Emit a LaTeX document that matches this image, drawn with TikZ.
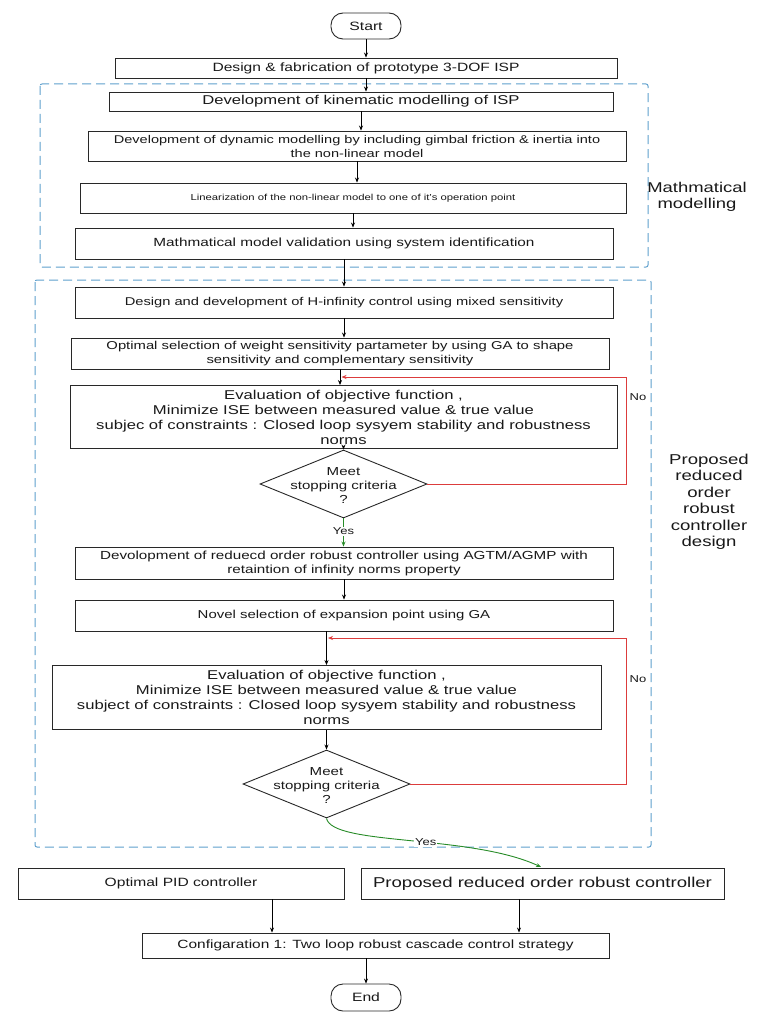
\documentclass[tikz,border=0pt]{standalone}
\usepackage{fontspec}
\setmainfont{Liberation Sans}[FakeStretch=1.3]
\usetikzlibrary{arrows.meta,shapes.geometric,calc}
\definecolor{boxline}{RGB}{40,40,40}
\definecolor{txt}{RGB}{25,25,25}
\definecolor{dashblue}{RGB}{95,160,205}
\definecolor{loopred}{RGB}{220,60,60}
\definecolor{yesgreen}{RGB}{40,140,40}
\newcommand{\fs}[2]{\fontsize{#1}{#2}\selectfont}
\tikzset{
  box/.style={draw=boxline, line width=0.9pt, rectangle, inner sep=0pt, align=center, text=txt},
  term/.style={box, rounded corners=12pt},
  dia/.style={draw=boxline, line width=0.9pt, diamond, inner sep=0pt, text=txt},
  arr/.style={draw=black, line width=0.7pt, -{Stealth[length=5pt,width=4pt]}},
  redarr/.style={draw=loopred, line width=0.7pt, -{Stealth[length=5pt,width=4pt]}},
  greenarr/.style={draw=yesgreen, line width=0.9pt, -{Stealth[length=5pt,width=4pt]}},
  group/.style={draw=dashblue, line width=1pt, dash pattern=on 9pt off 5pt, rounded corners=2pt},
  lbl/.style={align=center, text=txt, inner sep=0pt},
}
\begin{document}
\begin{tikzpicture}[x=1pt,y=-1pt]
\useasboundingbox[fill=white] (0,0) rectangle (768,1024);

% groups
\draw[group] (40,84) rectangle (648,267);
\draw[group] (35,280) rectangle (651,847);

% nodes
\node[term, minimum width=70, minimum height=26, font=\fs{12.1}{14}] (start) at (366,26) {Start};
\node[box, minimum width=502, minimum height=20, font=\fs{12}{14}] (design) at (366,68) {Design \& fabrication of prototype 3-DOF ISP};
\node[box, minimum width=504, minimum height=19, font=\fs{12.8}{15}] (kin) at (361,101.5) {Development of kinematic modelling of ISP};
\node[box, minimum width=538, minimum height=30, font=\fs{11.2}{14}] (dyn) at (357,146) {Development of dynamic modelling by including gimbal friction \& inertia into\\the non-linear model};
\node[box, minimum width=546, minimum height=30, font=\fs{8.7}{11}] (lin) at (353,198) {Linearization of the non-linear model to one of it's operation point};
\node[box, minimum width=538, minimum height=31, font=\fs{11.8}{14}] (val) at (344,243.5) {Mathmatical model validation using system identification};

\node[box, minimum width=538, minimum height=31, font=\fs{11.3}{14}] (hinf) at (344,302.5) {Design and development of H-infinity control using mixed sensitivity};
\node[box, minimum width=538, minimum height=31, font=\fs{11.4}{14}] (opt) at (340,353.5) {Optimal selection of weight sensitivity partameter by using GA to shape\\sensitivity and complementary sensitivity};
\node[box, minimum width=547, minimum height=63, font=\fs{12.8}{15}] (eval1) at (343.5,417) {Evaluation of objective function ,\\Minimize ISE between measured value \& true value\\subjec of constraints : Closed loop sysyem stability and robustness\\norms};
\node[dia, minimum width=167, minimum height=68] (dia1) at (343.5,484) {\smash{\makebox[0pt]{\raisebox{-6pt}{\fs{11.6}{14}\begin{tabular}{@{}c@{}}Meet\\stopping criteria\\?\end{tabular}}}}};
\node[box, minimum width=538, minimum height=32, font=\fs{11.7}{14}] (dev) at (344,563) {Devolopment of reduecd order robust controller using AGTM/AGMP with\\retaintion of infinity norms property};
\node[box, minimum width=538, minimum height=31, font=\fs{11.5}{14}] (novel) at (344,615.5) {Novel selection of expansion point using GA};
\node[box, minimum width=549, minimum height=64, font=\fs{12.8}{15}] (eval2) at (326.5,697.5) {Evaluation of objective function ,\\Minimize ISE between measured value \& true value\\subject of constraints : Closed loop sysyem stability and robustness\\norms};
\node[dia, minimum width=167, minimum height=68] (dia2) at (326.5,784) {\smash{\makebox[0pt]{\raisebox{-6pt}{\fs{11.6}{14}\begin{tabular}{@{}c@{}}Meet\\stopping criteria\\?\end{tabular}}}}};

\node[box, minimum width=326, minimum height=31, font=\fs{12}{14}] (pid) at (181,883.5) {Optimal PID controller};
\node[box, minimum width=363, minimum height=31, font=\fs{14.3}{16}] (prop) at (542.5,883.5) {Proposed reduced order robust controller};
\node[box, minimum width=467, minimum height=25, font=\fs{11.9}{14}] (conf) at (375.5,945.5) {Configaration 1: Two loop robust cascade control strategy};
\node[term, minimum width=70, minimum height=27, font=\fs{12.1}{14}] (end) at (366,997.5) {End};

% side labels
\node[lbl, font=\fs{14.2}{16}] (mm) at (697,197) {Mathmatical\\modelling};
\node[lbl, font=\fs{14.3}{16.5}] (prl) at (709,502) {Proposed\\reduced\\order\\robust\\controller\\design};

% connectors
\draw[arr] (start) -- (design);
\draw[arr] (design.south) -- (design.south |- kin.north);
\draw[arr] (kin.south) -- (kin.south |- dyn.north);
\draw[arr] (dyn.south) -- (dyn.south |- lin.north);
\draw[arr] (lin.south) -- (lin.south |- val.north);
\draw[arr] (val.south) -- (val.south |- hinf.north);
\draw[arr] (hinf.south) -- (hinf.south |- opt.north);
\draw[arr] (opt.south) -- (opt.south |- eval1.north);
\draw[arr] (eval1.south) -- (dia1.north);
\coordinate (r1) at (626,377);
\coordinate (t1) at (341.5,377);
\draw[redarr] (dia1.east) -| (r1) -- (t1);
\node[lbl, font=\fs{10}{12}] (no1) at (638,397) {No};
\draw[greenarr] (dia1.south) -- (dia1.south |- dev.north) node[pos=0.45, fill=white, inner sep=1pt, text=txt, font=\fs{10}{12}] (yes1) {Yes};

\draw[arr] (dev.south) -- (dev.south |- novel.north);
\draw[arr] (novel.south -| eval2.north) -- (eval2.north);
\draw[arr] (eval2.south) -- (dia2.north);
\coordinate (r2) at (626,638);
\coordinate (t2) at (328,638);
\draw[redarr] (dia2.east) -| (r2) -- (t2);
\node[lbl, font=\fs{10}{12}] (no2) at (638,679) {No};
\draw[greenarr] (dia2.south) .. controls (333,846) and (470,834) .. (541,867) node[pos=0.56, fill=white, inner sep=1pt, text=txt, font=\fs{10}{12}] (yes2) {Yes};

\coordinate (c1) at (272,0);
\coordinate (c2) at (519,0);
\draw[arr] (pid.south -| c1) -- (conf.north -| c1);
\draw[arr] (prop.south -| c2) -- (conf.north -| c2);
\draw[arr] (conf.south -| end.north) -- (end.north);
\end{tikzpicture}
\end{document}
